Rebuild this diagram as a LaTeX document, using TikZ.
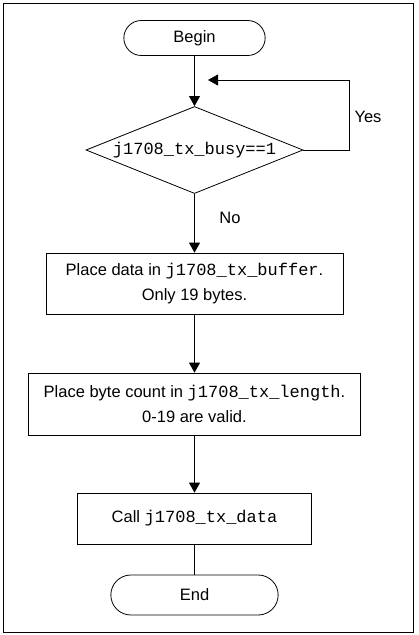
\documentclass[tikz,border=0pt]{standalone}
\usepackage{fontspec}
\setmainfont{Liberation Sans}
\setmonofont[Scale=1.03]{Liberation Mono}
\usetikzlibrary{shapes.geometric,shapes.misc,arrows.meta}

\begin{document}
\begin{tikzpicture}[x=1pt,y=-1pt,
    every node/.style={font=\fontsize{16.5}{25}\selectfont},
    terminal/.style={draw,rounded rectangle,line width=0.8pt},
    stepbox/.style={draw,rectangle,line width=0.8pt,align=center},
    decision/.style={draw,diamond,aspect=2.5,inner sep=0pt,line width=0.8pt},
    flow/.style={line width=0.8pt,-{Triangle[width=11pt,length=10pt]}}]
  \useasboundingbox (0,0) rectangle (418,635);
  \draw[line width=1pt] (3.5,3.5) rectangle (413.5,632);
  % chart
  \node[terminal,minimum width=148pt,minimum height=35pt] (begin) at (194.5,38) {Begin};
  \node[decision,minimum width=217pt,minimum height=87pt] (busy) at (194.5,150)
    {\texttt{j1708\_tx\_busy==1}};
  \node[stepbox,minimum width=297pt,minimum height=61pt] (buffer) at (194.5,283.5)
    {Place data in \texttt{j1708\_tx\_buffer}.\\Only 19 bytes.};
  \node[stepbox,minimum width=332pt,minimum height=62pt] (length) at (194.5,404)
    {Place byte count in \texttt{j1708\_tx\_length}.\\0-19 are valid.};
  \node[stepbox,minimum width=234pt,minimum height=51pt] (txdata) at (194.5,518.5)
    {Call \texttt{j1708\_tx\_data}};
  \node[terminal,minimum width=174pt,minimum height=40pt] (finish) at (194.5,595) {End};
  \coordinate (loopin) at (208,80);
  % connectors
  \draw[flow] (begin.south) -- (busy.north);
  \draw[flow] (busy.south) -- (buffer.north);
  \draw[flow] (buffer.south) -- (length.north);
  \draw[flow] (length.south) -- (txdata.north);
  \draw[line width=0.8pt] (txdata.south) -- (finish.north);
  \draw[flow] (busy.east) -- ++(46,0) |- (loopin);
  \node (yes) at (368,117) {Yes};
  \node (no) at (230,218) {No};
\end{tikzpicture}
\end{document}
